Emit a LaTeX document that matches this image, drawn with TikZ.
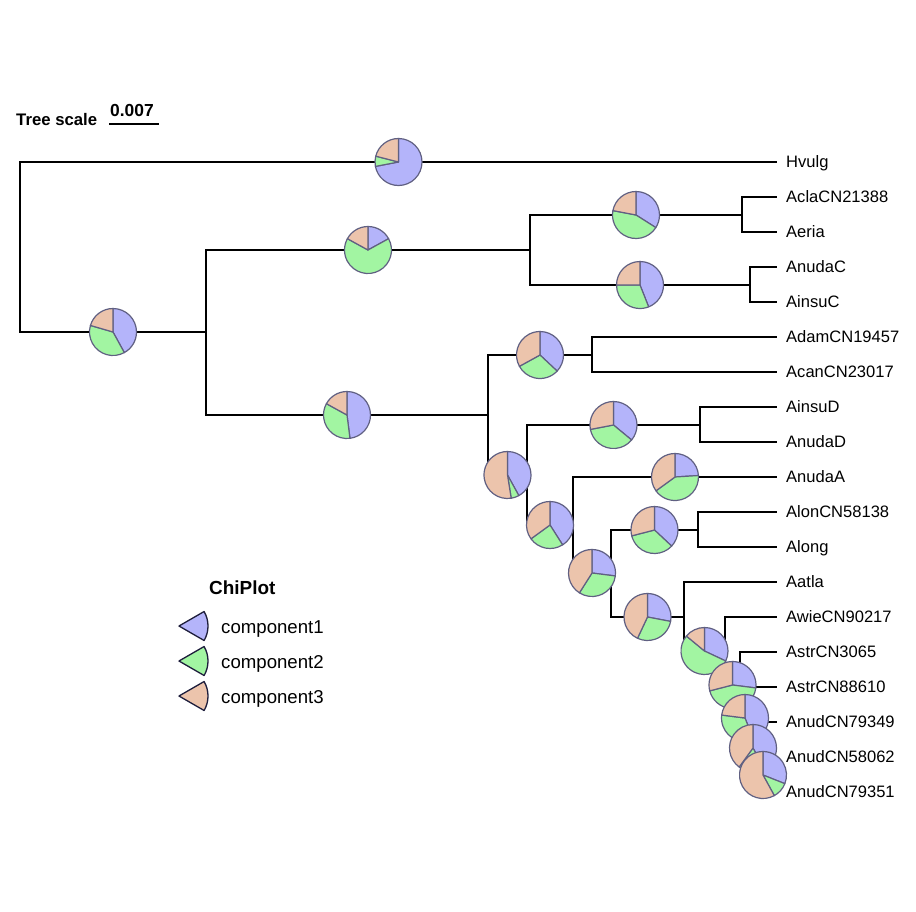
\documentclass[tikz,border=0pt]{standalone}
\usepackage{fontspec}
\setmainfont{Liberation Sans}
\definecolor{cOne}{RGB}{180,180,250}
\definecolor{cTwo}{RGB}{162,245,162}
\definecolor{cThree}{RGB}{236,196,172}
\definecolor{pieEdge}{RGB}{96,96,130}
\definecolor{legEdge}{RGB}{30,30,60}
\newcommand{\pieR}{23.5}
\newcommand{\mypie}[4]{%
  \pgfmathsetmacro{\angA}{90-360*#3}%
  \pgfmathsetmacro{\angB}{\angA-360*#4}%
  \filldraw[pieline, fill=cOne] (#1,-#2) -- ++(90:\pieR) arc[start angle=90, end angle=\angA, radius=\pieR] -- cycle;
  \filldraw[pieline, fill=cTwo] (#1,-#2) -- ++(\angA:\pieR) arc[start angle=\angA, end angle=\angB, radius=\pieR] -- cycle;
  \filldraw[pieline, fill=cThree] (#1,-#2) -- ++(\angB:\pieR) arc[start angle=\angB, end angle=-270, radius=\pieR] -- cycle;
}
\begin{document}
\begin{tikzpicture}[x=1bp,y=1bp,
  branch/.style={line width=2bp, line join=miter, black},
  pieline/.style={line width=1.2bp, draw=pieEdge, line join=round},
  legwedge/.style={line width=1.3bp, draw=legEdge, line join=round},
  leaf/.style={anchor=base west, inner sep=0pt, font=\fontsize{16.6}{18}\selectfont},
  legtext/.style={anchor=base west, inner sep=0pt, font=\fontsize{18.7}{20}\selectfont},
  titletext/.style={anchor=base west, inner sep=0pt, font=\bfseries\fontsize{19}{21}\selectfont}]
\useasboundingbox[fill=white] (0,0) rectangle (916,-912);

% internal nodes
\coordinate (R)   at (20,-247);
\coordinate (N1)  at (206,-332);
\coordinate (N2)  at (530,-250);
\coordinate (N3)  at (488,-415);
\coordinate (N4)  at (742,-215);
\coordinate (N5)  at (750,-285);
\coordinate (N6)  at (592,-355);
\coordinate (N7)  at (527,-475);
\coordinate (N8)  at (700,-425);
\coordinate (N9)  at (573,-525);
\coordinate (N10) at (611,-573);
\coordinate (N11) at (698,-530);
\coordinate (N12) at (684,-617);
\coordinate (NA)  at (725,-651);
\coordinate (NB)  at (740,-685);
\coordinate (NC)  at (750,-718);
\coordinate (ND)  at (756,-748);
\coordinate (NE)  at (770,-775);

% leaf tips
\foreach \nm/\yy in {Hvulg/162, AclaCN21388/197, Aeria/232, AnudaC/267, AinsuC/302,
  AdamCN19457/337, AcanCN23017/372, AinsuD/407, AnudaD/442, AnudaA/477,
  AlonCN58138/512, Along/547, Aatla/582, AwieCN90217/617, AstrCN3065/652,
  AstrCN88610/687, AnudCN79349/722, AnudCN58062/757, AnudCN79351/792}{
  \coordinate (t\nm) at (777,-\yy);
  \node[leaf] (l\nm) at (786,-\yy-5.9) {\nm};
}

% branches
\draw[branch] (R) |- (tHvulg);
\draw[branch] (R) |- (N1);
\draw[branch] (N1) |- (N2);
\draw[branch] (N1) |- (N3);
\draw[branch] (N2) |- (N4);
\draw[branch] (N2) |- (N5);
\draw[branch] (N4) |- (tAclaCN21388);
\draw[branch] (N4) |- (tAeria);
\draw[branch] (N5) |- (tAnudaC);
\draw[branch] (N5) |- (tAinsuC);
\draw[branch] (N3) |- (N6);
\draw[branch] (N3) |- (N7);
\draw[branch] (N6) |- (tAdamCN19457);
\draw[branch] (N6) |- (tAcanCN23017);
\draw[branch] (N7) |- (N8);
\draw[branch] (N7) |- (N9);
\draw[branch] (N8) |- (tAinsuD);
\draw[branch] (N8) |- (tAnudaD);
\draw[branch] (N9) |- (tAnudaA);
\draw[branch] (N9) |- (N10);
\draw[branch] (N10) |- (N11);
\draw[branch] (N10) |- (N12);
\draw[branch] (N11) |- (tAlonCN58138);
\draw[branch] (N11) |- (tAlong);
\draw[branch] (N12) |- (tAatla);
\draw[branch] (N12) |- (NA);
\draw[branch] (NA) |- (tAwieCN90217);
\draw[branch] (NA) |- (NB);
\draw[branch] (NB) |- (tAstrCN3065);
\draw[branch] (NB) |- (NC);
\draw[branch] (NC) |- (tAstrCN88610);
\draw[branch] (NC) |- (ND);
\draw[branch] (ND) |- (tAnudCN79349);
\draw[branch] (ND) |- (NE);
\draw[branch] (NE) |- (tAnudCN58062);
\draw[branch] (NE) |- (tAnudCN79351);

% pies
\mypie{398.5}{162}{0.72}{0.07}
\mypie{113}{332}{0.42}{0.375}
\mypie{368}{250}{0.17}{0.66}
\mypie{347}{415}{0.48}{0.35}
\mypie{636}{215}{0.34}{0.44}
\mypie{640}{285}{0.44}{0.31}
\mypie{540}{355}{0.37}{0.30}
\mypie{507.5}{475}{0.42}{0.055}
\mypie{613.5}{425}{0.36}{0.36}
\mypie{550}{525}{0.41}{0.24}
\mypie{675}{477}{0.24}{0.41}
\mypie{592}{573}{0.27}{0.32}
\mypie{654.5}{530}{0.37}{0.34}
\mypie{647.5}{617}{0.28}{0.29}
\mypie{704.5}{651}{0.32}{0.54}
\mypie{732.5}{685}{0.27}{0.44}
\mypie{745}{718}{0.44}{0.33}
\mypie{753}{748}{0.42}{0.18}
\mypie{763}{775}{0.31}{0.11}

% tree scale
\node[anchor=base west, inner sep=0pt, font=\bfseries\fontsize{16.8}{19}\selectfont] (tscale) at (16,-125) {Tree scale};
\node[anchor=base west, inner sep=0pt, font=\bfseries\fontsize{17.5}{19}\selectfont] (tval) at (110,-116.7) {0.007};
\coordinate (sbA) at (109,-124);
\coordinate (sbB) at (158.5,-124);
\draw[line width=2bp] (sbA) -- (sbB);

% legend
\node[titletext] (legtitle) at (209,-594.8) {ChiPlot};
\filldraw[legwedge, fill=cOne]   (179,-626) -- ++(30:29) arc[start angle=30, end angle=-30, radius=29] -- cycle;
\filldraw[legwedge, fill=cTwo]   (179,-661) -- ++(30:29) arc[start angle=30, end angle=-30, radius=29] -- cycle;
\filldraw[legwedge, fill=cThree] (179,-696) -- ++(30:29) arc[start angle=30, end angle=-30, radius=29] -- cycle;
\node[legtext] (leg1) at (221,-633.3) {component1};
\node[legtext] (leg2) at (221,-668.3) {component2};
\node[legtext] (leg3) at (221,-703.3) {component3};
\end{tikzpicture}
\end{document}
